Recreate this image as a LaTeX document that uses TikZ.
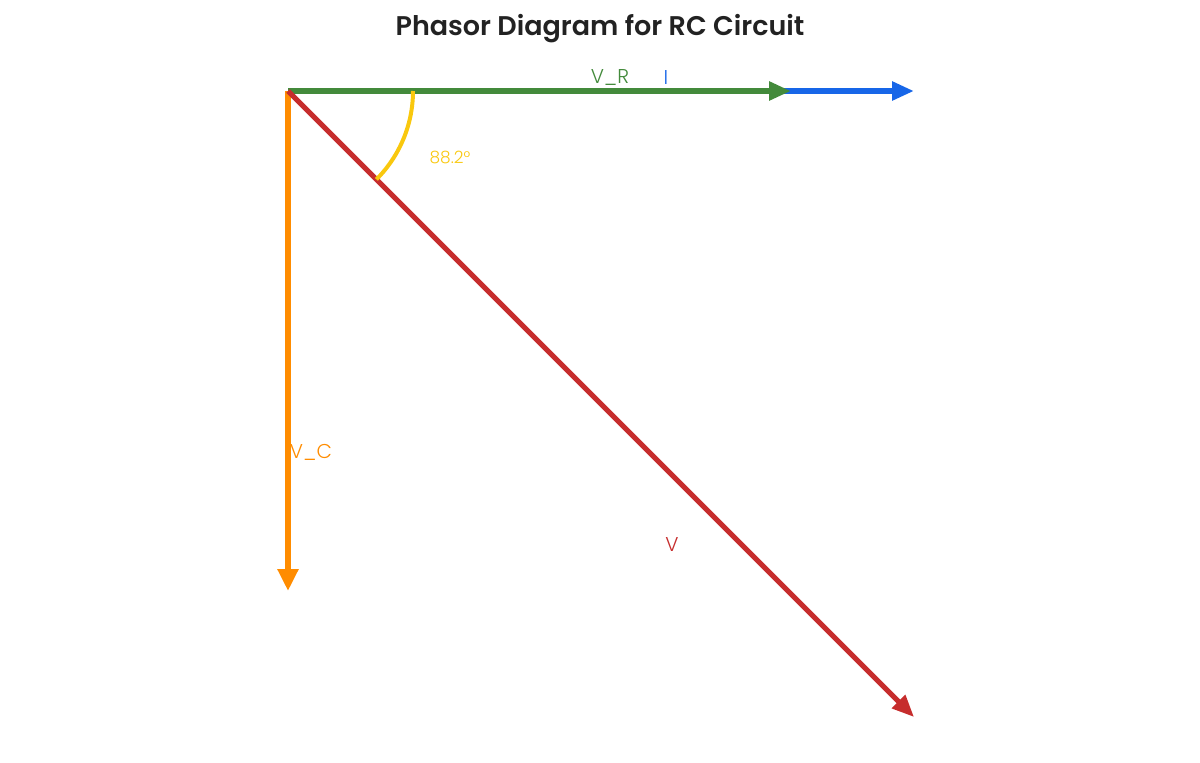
\documentclass[tikz,border=0pt]{standalone}
\usepackage{fontspec}
\setmainfont{Poppins}
\newfontfamily\titlefont{Poppins SemiBold}
\newfontfamily\lightfont{Poppins Light}
\usetikzlibrary{arrows.meta}
\definecolor{cgreen}{HTML}{438A3B}
\definecolor{cblue}{HTML}{1766E8}
\definecolor{corange}{HTML}{FF8C00}
\definecolor{cred}{HTML}{C62D2D}
\definecolor{cyellow}{HTML}{F9C80E}
\definecolor{ctitle}{HTML}{222222}
\tikzset{
  phasor/.style={line width=5.5pt,-{Triangle[length=22pt,width=18pt]}},
  lbl/.style={font=\lightfont\fontsize{20}{22}\selectfont, inner sep=0pt}
}
\begin{document}
\begin{tikzpicture}[x=1pt,y=-1pt]
\useasboundingbox (0,0) rectangle (1200,763);
\node[font=\titlefont\fontsize{27}{32}\selectfont, text=ctitle] (title) at (600,29) {Phasor Diagram for RC Circuit};
\coordinate (O) at (288,91);
\coordinate (Iend) at (914,91);
\coordinate (VRend) at (791,91);
\coordinate (VCend) at (288,591);
\coordinate (Vend) at (914,717);
\draw[phasor, cblue] (O) -- (Iend);
\draw[phasor, cgreen, line width=6pt] (O) -- (VRend);
\draw[phasor, corange, line width=5.5pt, -{Triangle[length=22pt,width=20pt]}] (O) -- (VCend);
\draw[phasor, cred, line width=5pt] (O) -- (Vend);
\draw[cyellow, line width=4pt] ([shift={(0:125)}]O) arc[start angle=0, end angle=45, radius=125];
\node[lbl, text=cgreen] (lVR) at (610,78) {V\_R};
\node[lbl, text=cblue] (lI) at (666,78) {I};
\node[lbl, text=corange] (lVC) at (311,452) {V\_C};
\node[lbl, text=cred] (lV) at (672,545) {V};
\node[lbl, font=\lightfont\fontsize{17}{20}\selectfont, text=cyellow] (lang) at (450,157) {88.2°};
\end{tikzpicture}
\end{document}
